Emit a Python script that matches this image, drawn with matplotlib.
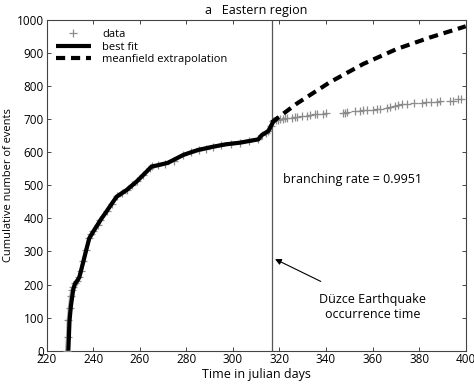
import matplotlib
matplotlib.use("Agg")
import matplotlib.pyplot as plt

plt.rcParams["font.family"] = ["Open Sans", "DejaVu Sans"]

# observed cumulative counts (grey crosses)
data_t = [228.6, 229.0, 229.3, 229.8, 230.4, 231.0, 231.4, 232.2, 233.0, 234.0, 234.8,
          235.7, 237.0, 238.3, 239.2, 240.0, 242.0, 243.1, 245.8, 248.0, 250.1, 252.3,
          254.4, 256.5, 258.7, 261.5, 264.4, 265.1, 267.9, 271.0, 274.5, 278.7, 282.0,
          285.5, 288.5, 291.6, 295.0, 299.0, 303.0, 307.0, 310.9, 312.4, 314.0, 315.2,
          316.3, 317.3,
          318.5, 319.5, 320.2, 321.6, 322.5, 323.4, 325.2, 326.5, 327.4, 329.5, 331.7,
          333.0, 335.2, 336.0, 338.8, 340.0, 347.4, 348.1, 349.0, 352.5, 354.6, 356.0,
          357.8, 360.3, 362.0, 363.2, 366.1, 367.5, 369.6, 371.0, 372.5, 374.6, 378.0,
          381.1, 383.0, 385.0, 387.5, 389.0, 393.2, 394.5, 396.8, 398.0]
data_n = [0, 40, 92, 130, 165, 185, 192, 205, 212, 222, 240,
          272, 305, 342, 352, 362, 380, 395, 422, 445, 467, 478,
          487, 500, 512, 532, 552, 557, 560, 566, 575, 592, 600,
          606, 611, 617, 622, 626, 629, 634, 639, 652, 658, 664,
          680, 694,
          697, 699, 700, 702, 703, 704, 704, 707, 708, 711, 711,
          714, 717, 717, 717, 719, 720, 720, 721, 724, 726, 727,
          727, 728, 730, 732, 735, 736, 740, 742, 745, 747, 748,
          750, 751, 752, 753, 754, 755, 756, 760, 762]

# best fit before the main shock
fit_t = [229.3, 229.8, 230.4, 231.4, 232.2, 233.0, 234.0, 235.7, 237.0, 238.3,
         240.0, 243.1, 245.8, 248.0, 250.1, 254.4, 258.7, 262.0, 265.1, 267.9,
         272.0, 278.7, 285.0, 291.6, 297.0, 303.0, 310.9, 312.4, 315.2, 317.3, 318.8]
fit_n = [0, 90, 135, 185, 203, 210, 222, 268, 305, 340,
         360, 395, 422, 445, 466, 486, 512, 535, 557, 561,
         568, 592, 607, 617, 624, 629, 639, 652, 664, 692, 702]

# meanfield extrapolation after the main shock
ext_t = [316.6, 327.4, 341.7, 356.0, 370.3, 384.6, 398.3, 400.0]
ext_n = [690, 747, 812, 867, 912, 947, 977, 981]

quake_t = 316.7

fig = plt.figure(figsize=(4.74, 3.84), dpi=100)
ax = fig.add_axes([0.0985, 0.0867, 0.884, 0.8613])

ax.axvline(quake_t, color="#555555", lw=0.9, zorder=1)
# grey halo of the dense pre-shock events
n_pre = sum(t <= quake_t + 1 for t in data_t)
ax.plot(data_t[:n_pre], data_n[:n_pre], color="#aaaaaa", lw=2.5, zorder=2)
ax.plot(data_t, data_n, "+", color="#8c8c8c", ms=6, mew=0.9, zorder=3, label="data")
ax.plot(fit_t, fit_n, color="black", lw=3.0, solid_capstyle="butt", zorder=4, label="best fit")
ax.plot(ext_t, ext_n, color="black", lw=3.0, dashes=(2.2, 1.4), zorder=4,
        label="meanfield extrapolation")

ax.set_xlim(220, 400)
ax.set_ylim(0, 1000)
ax.set_xticks(range(220, 401, 20))
ax.set_yticks(range(0, 1001, 100))
ax.tick_params(direction="in", top=True, right=True, labelsize=8.5, length=3,
               width=0.7, color="#444444", pad=2)
for s in ax.spines.values():
    s.set_linewidth(0.8)
    s.set_color("#444444")

ax.set_xlabel("Time in julian days", fontsize=9, labelpad=1)
ax.set_ylabel("Cumulative number of events", fontsize=8, labelpad=2)
ax.set_title("a   Eastern region", fontsize=9, pad=4)

ax.legend(loc="upper left", frameon=False, fontsize=8, handlelength=3.2,
          borderaxespad=0.4, labelspacing=0.15, handletextpad=1.0)

ax.text(321.6, 517, "branching rate = 0.9951", fontsize=9, va="center", ha="left")
ax.annotate("Düzce Earthquake\noccurrence time", xy=(318.1, 277), xytext=(360, 133),
            ha="center", va="center", fontsize=9, linespacing=1.2,
            arrowprops=dict(arrowstyle="-|>", color="black", lw=0.8,
                            shrinkA=14, shrinkB=0, mutation_scale=9))

fig.savefig("out.png", dpi=100, facecolor="white")
